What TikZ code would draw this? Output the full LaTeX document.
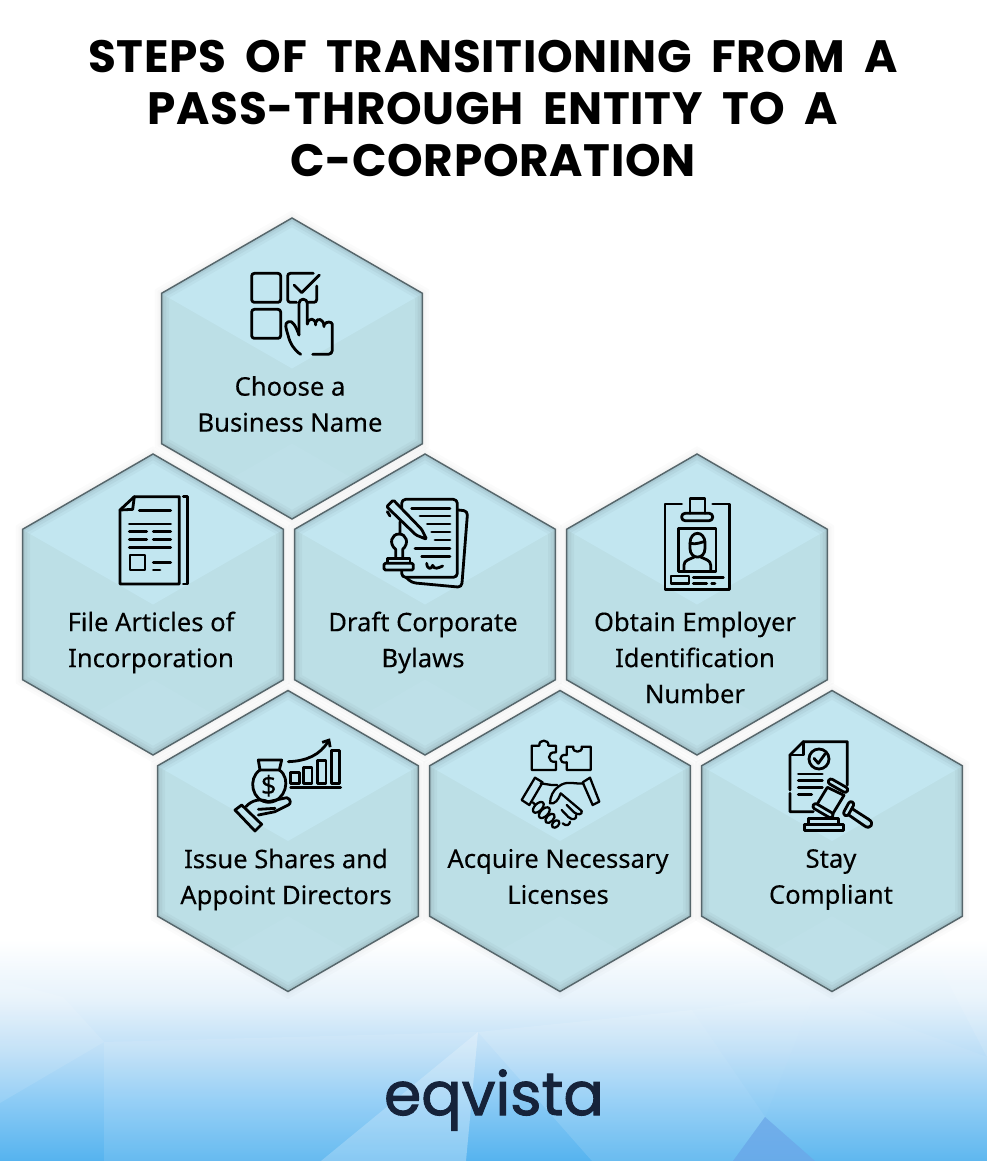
\documentclass[tikz,border=0pt]{standalone}
\usepackage{fontspec}
\usetikzlibrary{shapes.geometric,arrows.meta}
\setmainfont{Noto Sans}[FakeBold=0.15]
\newfontfamily\titlefont{Poppins}[LetterSpace=1.5,WordSpace=1.9]
\newfontfamily\logofont{Poppins}[FakeBold=1.6]

\definecolor{hexfill}{HTML}{BCDFE6}
\definecolor{hextop}{HTML}{C2E6F0}
\definecolor{hexlow}{HTML}{BEE0E8}
\definecolor{hexedge}{HTML}{56666B}
\definecolor{logoink}{HTML}{16233A}
\definecolor{skyA}{HTML}{55B3EF}
\definecolor{skyB}{HTML}{8CCBF5}
\definecolor{skyC}{HTML}{BEDFF7}
\definecolor{skyD}{HTML}{E6F2FB}
\definecolor{skyV}{HTML}{6FA8E8}

\pgfdeclareverticalshading{skyfade}{100bp}{color(0bp)=(skyA); color(25bp)=(skyA); color(37.4bp)=(skyB); color(47.6bp)=(skyC); color(57.7bp)=(skyD); color(70bp)=(white); color(100bp)=(white)}

\newcommand{\hexoutline}{(0,-150.5) -- (131,-75.2) -- (131,75.2) -- (0,150.5) -- (-131,75.2) -- (-131,-75.2) -- cycle}

\tikzset{
    hexcell/.style={regular polygon,regular polygon sides=6,shape border rotate=30,minimum size=225.75pt,inner sep=0pt,outer sep=0pt,
        draw=hexedge,line width=1.1pt,fill=hexfill,path picture={
            \begin{scope}[shift={(path picture bounding box.center)}]
                \fill[hextop] (-131,-75.2) -- (0,0) -- (131,-75.2) -- (131,-160) -- (-131,-160) -- cycle;
                \fill[hexlow] (-131,150) -- (0,75) -- (131,150) -- cycle;
                \foreach \w/\o in {12/0.05,8/0.07,4/0.1} {
                    \draw[hexedge,line width=\w pt,opacity=\o] \hexoutline;
                }
            \end{scope}
        }},
    hexglow/.style={regular polygon,regular polygon sides=6,shape border rotate=30,minimum size=225.75pt,inner sep=0pt,outer sep=0pt,
        draw=hexedge,line width=#1,opacity=0.025},
    celllabel/.style={align=center,text=black,font=\fontsize{19.2}{27}\selectfont},
    titleline/.style={font=\titlefont\bfseries\fontsize{34}{40}\selectfont,text=black},
    iconline/.style={draw=black,line width=2.1pt,line cap=round,line join=round},
    thinline/.style={draw=black,line width=1.7pt,line cap=round,line join=round},
    iconzoom/.style={x=0.25pt,y=-0.25pt},
    skyfacet/.style={fill=white,opacity=#1,draw=none}
}

\begin{document}
\begin{tikzpicture}[x=0.75pt,y=-0.75pt]
        \useasboundingbox (0,0) rectangle (987,1161);

        % Background
        \fill[white] (0,0) rectangle (987,1161);
        \fill[shading=skyfade] (0,915) rectangle (987,1161);
        \fill[skyfacet=0.1] (104,1042) -- (478,1032) -- (466,1161) -- (104,1161) -- cycle;
        \fill[skyfacet=0.12] (478,1032) -- (692,1010) -- (765,1117) -- (733,1161) -- (592,1161) -- cycle;
        \fill[skyfacet=0.22] (478,1032) -- (321,1161) -- (466,1161) -- cycle;
        \fill[skyfacet=0.08] (692,1010) -- (815,993) -- (765,1117) -- cycle;
        \fill[skyfacet=0.1] (0,1103) -- (104,1042) -- (63,997) -- (0,980) -- cycle;
        \fill[skyfacet=0.1] (928,943) -- (987,1057) -- (987,943) -- cycle;
        \fill[skyfacet=0.06] (815,993) -- (987,1057) -- (987,1161) -- (815,1161) -- (765,1117) -- cycle;
        \fill[skyV,opacity=0.75] (765,1117) -- (733,1161) -- (815,1161) -- cycle;

        % Title
        \node[titleline] (titleone) at (493,57) {STEPS OF TRANSITIONING FROM A};
        \node[titleline] (titletwo) at (493,109) {PASS-THROUGH ENTITY TO A};
        \node[titleline] (titlethree) at (493,161) {C-CORPORATION};

        % Cells
        \foreach \name/\x/\y in {choose/292/368.5,file/153/604.5,draft/425/604.5,obtain/697/604.5,
                                 issue/288/841,acquire/560/841,stay/832/841} {
            \foreach \w in {10pt,6pt,3pt} {
                \node[hexglow=\w] (glow\name\w) at (\x,\y) {};
            }
            \node[hexcell] (hex\name) at (\x,\y) {};
        }

        % Labels
        \node[celllabel] (labelchoose) at (290,404) {Choose a\\Business Name};
        \node[celllabel] (labelfile) at (151,642.5) {File Articles of\\Incorporation};
        \node[celllabel] (labeldraft) at (423,642.5) {Draft Corporate\\Bylaws};
        \node[celllabel] (labelobtain) at (695,657.5) {Obtain Employer\\Identification\\Number};
        \node[celllabel] (labelissue) at (286,879.5) {Issue Shares and\\Appoint Directors};
        \node[celllabel] (labelacquire) at (558,876.5) {Acquire Necessary\\Licenses};
        \node[celllabel] (labelstay) at (831,879.5) {Stay\\Compliant};

        % Icon: choose
        \begin{scope}[shift={(150,210)},iconzoom]
            \draw[iconline,rounded corners=2pt] (305,190) rectangle (392,277);
            \draw[iconline,rounded corners=2pt] (305,298) rectangle (392,385);
            \draw[iconline,rounded corners=2pt] (490,190) -- (413,190) -- (413,277) -- (440,277);
            \draw[iconline,rounded corners=2pt] (475,277) -- (500,277) -- (500,228);
            \draw[iconline] (432,225) -- (455,248) -- (508,195);
            \draw[iconline] (447,375) -- (447,280) arc[start angle=180,end angle=360,radius=12.5] -- (472,342);
            \draw[iconline] (472,342) .. controls (475,322) and (497,322) .. (497,345);
            \draw[iconline] (497,338) .. controls (500,322) and (522,325) .. (522,350);
            \draw[iconline,rounded corners=3pt] (522,345) .. controls (528,332) and (547,335) .. (547,355) -- (547,433) -- (488,433);
            \draw[iconline] (447,375) .. controls (438,350) and (428,330) .. (415,335) .. controls (402,340) and (408,355) .. (414,375) .. controls (420,400) and (432,420) .. (452,433);
        \end{scope}

        % Icon: file
        \begin{scope}[shift={(100,480)},iconzoom]
            \draw[iconline] (60,90) -- (103,50) -- (238,50) -- (238,312) -- (60,312) -- cycle;
            \draw[iconline] (60,90) -- (98,88) -- (103,50);
            \draw[iconline] (250,50) -- (262,50) -- (262,312) -- (250,312);
            \draw[iconline] (118,92) -- (212,92) (88,132) -- (212,132) (88,202) -- (212,202);
            \foreach \y in {155,178} {
                \draw[iconline] (88,\y) -- (140,\y) (160,\y) -- (212,\y);
            }
            \draw[iconline] (90,225) rectangle (135,270);
            \draw[iconline] (160,247) -- (212,247) (160,270) -- (180,270);
        \end{scope}

        % Icon: draft
        \begin{scope}[shift={(100,480)},iconzoom]
            \draw[iconline,rounded corners=3pt] (1075,90) -- (1103,93) -- (1085,322) -- (935,308) -- (918,292);
            \draw[iconline,rounded corners=3pt] (905,120) -- (905,58) -- (1072,58) -- (1072,292) -- (905,292) -- (905,270);
            \foreach \a/\b in {935/85,960/108,982/132,995/156,1005/180,945/205,965/230} {
                \draw[iconline] (\a,\b) -- (1050,\b);
            }
            \draw[iconline] (980,250) .. controls (982,270) and (995,268) .. (998,256) .. controls (1002,270) and (1015,264) .. (1028,258);
            \draw[iconline,fill=hextop,rounded corners=1pt] (860,80) -- (880,60) -- (965,148) -- (980,178) -- (948,165) -- cycle;
            \draw[iconline] (900,125) -- (900,162) (862,95) -- (870,108);
            \draw[iconline,fill=hextop] (887,235) -- (887,208) .. controls (865,190) and (875,162) .. (897,162) .. controls (919,162) and (929,190) .. (908,208) -- (908,235);
            \draw[iconline,fill=hextop] (862,250) -- (862,235) -- (930,235) -- (930,250);
            \draw[iconline,fill=hextop,rounded corners=1pt] (852,250) rectangle (940,270);
        \end{scope}

        % Icon: obtain
        \begin{scope}[shift={(640,480)},iconzoom]
            \draw[iconline] (125,72) -- (75,72) -- (75,328) -- (268,328) -- (268,72) -- (218,72);
            \draw[iconline] (150,100) -- (150,55) -- (195,55) -- (195,100);
            \draw[iconline,rounded corners=2.5pt] (125,100) rectangle (218,122);
            \draw[iconline] (115,145) rectangle (228,275);
            \draw[iconline] (150,190) .. controls (150,150) and (195,150) .. (195,190) -- (195,205) .. controls (195,240) and (150,240) .. (150,205) -- cycle;
            \draw[iconline] (150,190) .. controls (170,195) and (185,185) .. (195,185);
            \draw[iconline] (132,272) -- (132,255) .. controls (132,240) and (150,238) .. (165,230);
            \draw[iconline] (212,272) -- (212,255) .. controls (212,240) and (195,238) .. (180,230);
            \draw[iconline] (93,288) rectangle (147,310);
            \draw[iconline] (160,292) -- (250,292) (160,310) -- (200,310) (215,310) -- (225,310);
        \end{scope}

        % Icon: issue
        \begin{scope}[shift={(220,725)},iconzoom]
            \draw[iconline] (120,135) .. controls (82,160) and (95,230) .. (146,232) .. controls (197,230) and (215,160) .. (178,135);
            \draw[iconline] (120,135) -- (178,135) (120,135) -- (115,105) -- (185,105) -- (178,135);
            \node[inner sep=0pt,font=\fontsize{20}{20}\selectfont] (dollarsign) at (146,182) {\$};
            \foreach \a/\b/\c in {212/238/142,250/276/128,292/318/106,334/358/76} {
                \draw[iconline] (\a,\c) rectangle (\b,176);
            }
            \draw[iconline] (212,188) -- (362,188);
            \draw[iconline,-{Straight Barb[length=4pt,width=7pt]}] (205,110) .. controls (260,108) and (300,90) .. (330,40);
            \draw[iconline] (45,255) -- (65,240) -- (125,298) -- (105,318) -- cycle;
            \draw[iconline] (78,245) .. controls (95,225) and (120,220) .. (145,230) -- (200,218) .. controls (215,222) and (212,238) .. (205,240) -- (165,260) -- (115,270);
            \draw[iconline] (115,253) -- (165,250);
        \end{scope}

        % Icon: acquire
        \begin{scope}[shift={(220,725)},iconzoom]
            \draw[thinline] (935,62) -- (958,62) .. controls (955,42) and (988,42) .. (985,62) -- (1008,62) -- (1008,82) .. controls (980,78) and (980,115) .. (1008,110) -- (1008,135) -- (935,135) -- cycle;
            \draw[thinline] (1040,65) -- (1060,65) .. controls (1055,85) and (1090,85) .. (1085,65) -- (1112,65) -- (1112,135) -- (1040,135) -- (1040,112) .. controls (1015,118) and (1015,85) .. (1040,90) -- cycle;
            \draw[thinline] (945,158) -- (968,172) -- (928,240) -- (905,225) -- cycle;
            \draw[thinline] (1110,158) -- (1088,172) -- (1118,240) -- (1138,230) -- cycle;
            \draw[thinline] (962,175) -- (995,180) -- (1012,180);
            \draw[thinline] (1090,175) .. controls (1060,178) and (1040,165) .. (1015,185) .. controls (1000,195) and (990,215) .. (990,235) .. controls (1005,238) and (1015,225) .. (1022,205) -- (1085,258);
            \draw[thinline] (1085,258) .. controls (1088,268) and (1075,272) .. (1062,262) (1062,262) -- (1040,240);
            \draw[thinline] (1068,270) .. controls (1072,282) and (1058,288) .. (1045,276) (1045,276) -- (1025,255);
            \draw[thinline] (1050,290) .. controls (1050,300) and (1038,305) .. (1028,295);
            \foreach \a/\b/\rx/\ry in {955/247/20/11,973/263/20/11,990/280/17/10,1007/297/13/9} {
                \draw[thinline,fill=hextop,rotate around={45:(\a,\b)}] (\a,\b) ellipse[x radius=\rx,y radius=\ry];
            }
            \draw[thinline] (938,232) -- (945,238);
        \end{scope}

        % Icon: stay
        \begin{scope}[shift={(770,730)},iconzoom]
            \draw[iconline] (130,245) -- (60,245) -- (60,190) (60,180) -- (60,75) -- (100,35) -- (232,35) -- (232,165);
            \draw[iconline] (60,75) -- (100,75) -- (100,35);
            \draw[iconline] (147,87) circle[radius=30];
            \draw[iconline] (132,85) -- (145,100) -- (165,72);
            \draw[iconline] (85,132) -- (157,132) (85,152) -- (157,152) (85,173) -- (157,173) (85,193) -- (125,193);
            \draw[iconline,fill=hextop] (172,172) -- (138,228) -- (188,252) -- (222,196) -- cycle;
            \draw[iconline,fill=hextop,rounded corners=2pt] (172,158) -- (180,144) -- (236,176) -- (228,190) -- cycle;
            \draw[iconline,fill=hextop,rounded corners=2pt] (126,232) -- (134,218) -- (192,252) -- (184,266) -- cycle;
            \draw[iconline] (240,232) -- (296,268) .. controls (316,280) and (300,300) .. (284,288) -- (232,252);
            \draw[iconline,fill=hextop,rounded corners=2pt] (218,252) -- (240,212) -- (254,220) -- (232,260) -- cycle;
            \draw[iconline] (115,283) -- (115,265) -- (205,265) -- (205,283);
            \draw[iconline] (103,283) rectangle (220,302);
        \end{scope}

        % Logo
        \node[font=\logofont\fontsize{45}{45}\selectfont,text=logoink,inner sep=0pt] (logo) at (494,1100) {eqvista};

    \end{tikzpicture}
\end{document}
